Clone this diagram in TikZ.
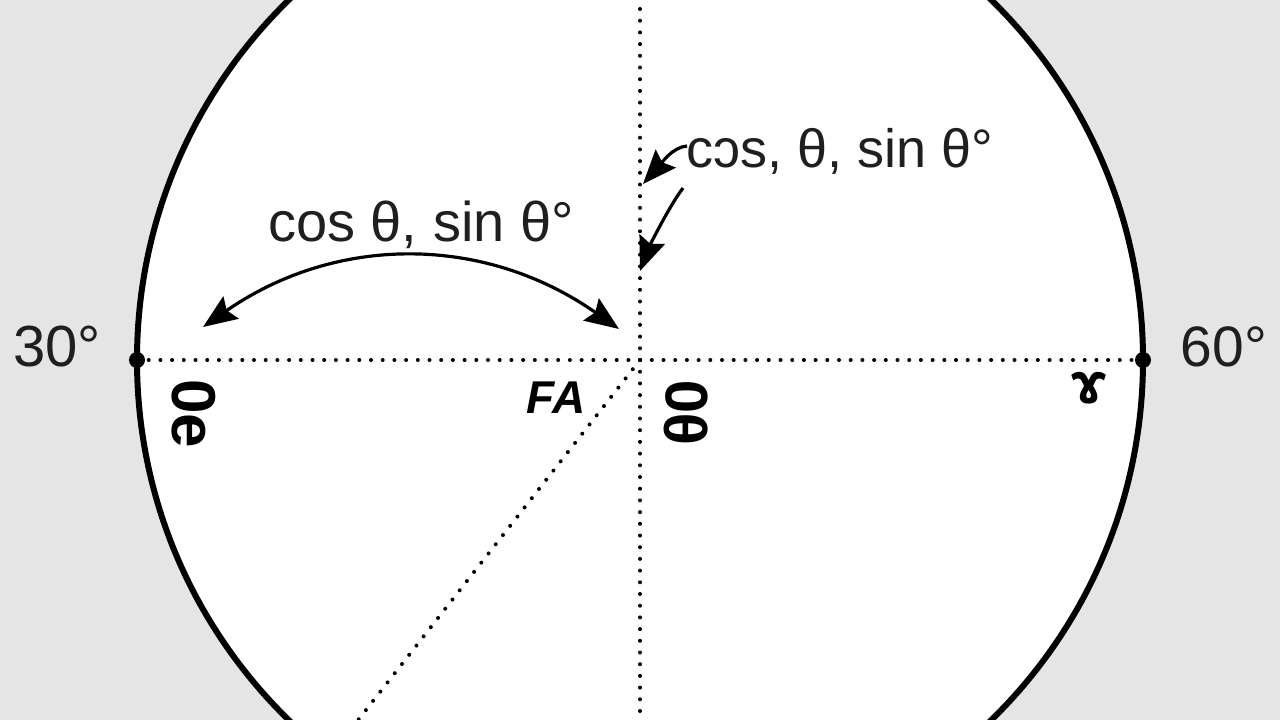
\documentclass[tikz,border=0pt]{standalone}
\usepackage{fontspec}
\setmainfont{Liberation Sans}
\usetikzlibrary{arrows.meta}
\begin{document}
\begin{tikzpicture}[x=1pt,y=-1pt,
  dotline/.style={line width=4pt,line cap=round,dash pattern=on 0pt off 11.7pt},
  tip/.tip={Stealth[length=34pt,width=27pt,inset=5pt]},
  arr/.style={line width=3.2pt,-tip},
  lbl/.style={inner sep=0pt,anchor=base,text=black!88},
  glyph/.style={inner sep=0pt,text=black}]
\useasboundingbox (0,0) rectangle (1280,720);
\fill[black!10] (0,0) rectangle (1280,720);
\begin{scope}
\clip (0,0) rectangle (1280,720);
\fill[white] (640,360) circle (503);
\coordinate (O) at (640,360);
\coordinate (L) at (137,360);
\coordinate (R) at (1143,360);
\coordinate (T) at (640,-2);
\coordinate (B) at (640,722);
\coordinate (D) at (355,724);
\draw[dotline] (L) -- (R);
\draw[dotline] (O) -- (T);
\draw[dotline] (O) -- (B);
\draw[dotline] (O) -- (D);
\draw[line width=6pt] (O) circle (503);
\end{scope}
\fill (L) circle (8);
\fill (R) circle (8);
\node[lbl,font=\fontsize{58}{66}\selectfont] (t30) at (57,366) {30°};
\node[lbl,font=\fontsize{57}{66}\selectfont] (t60) at (1224,366) {60°};
\node[lbl,font=\fontsize{56}{66}\selectfont] (cs1) at (421,241) {cos θ, sin θ°};
\node[lbl,font=\fontsize{54}{66}\selectfont] (cs2) at (840,167) {cɔs, θ, sin θ°};
\coordinate (a1s) at (203,327);
\coordinate (a1e) at (619,329);
\draw[line width=3.2pt,tip-tip] (a1s) .. controls (337,234) and (485,235) .. (a1e);
\coordinate (b1s) at (687,146);
\coordinate (b1e) at (643,184);
\draw[arr] (b1s) .. controls (672,147) and (660,165) .. (b1e);
\coordinate (b2s) at (683,188);
\coordinate (b2e) at (640,271);
\draw[arr] (b2s) .. controls (670,205) and (650,245) .. (b2e);
\node[glyph,rotate=-90,font=\fontsize{62}{70}\selectfont\bfseries] (g1) at (194,414) {0e};
\node[glyph,rotate=90,font=\fontsize{60}{70}\selectfont\bfseries] (g2) at (686,413) {θ0};
\node[glyph,font=\fontsize{46}{60}\selectfont\bfseries\itshape] (g3) at (556,398) {FA};
\node[glyph,font=\fontsize{58}{60}\selectfont\bfseries] (g4) at (1089,388) {ɤ};
\end{tikzpicture}
\end{document}
